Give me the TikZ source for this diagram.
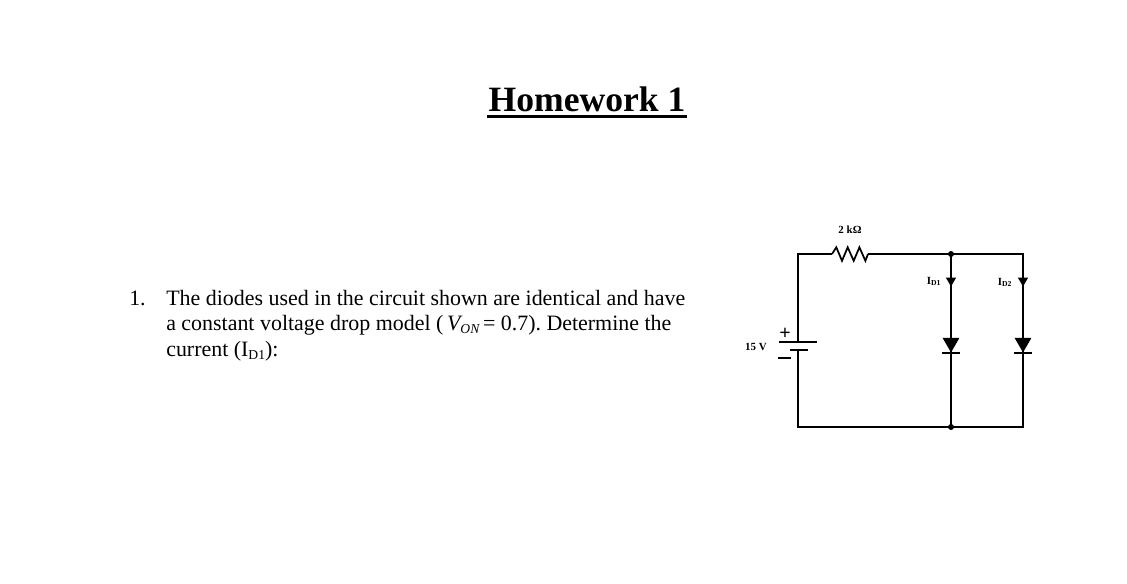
\documentclass[tikz,border=0pt]{standalone}
\usepackage{fontspec}
\setmainfont{Liberation Serif}
\usetikzlibrary{shapes.geometric}
\frenchspacing
\newcommand{\smallsub}[1]{\raisebox{-0.3ex}{\fontsize{10.2}{12}\selectfont #1}}
\tikzstyle{wire} = [draw, line width=1.6pt]
\tikzstyle{plate} = [rectangle, fill=black, inner sep=0pt, minimum height=1.7pt]
\tikzstyle{junction} = [circle, fill=black, inner sep=0pt, minimum size=4.5pt]
\tikzstyle{diode} = [regular polygon, regular polygon sides=3, shape border rotate=180, fill=black, inner sep=0pt, minimum size=14.5pt]
\tikzstyle{flow} = [regular polygon, regular polygon sides=3, shape border rotate=180, fill=black, inner sep=0pt, minimum size=9pt]
\tikzstyle{lab} = [inner sep=0pt, font=\bfseries\fontsize{8.2}{9}\selectfont]
\tikzstyle{body} = [inner sep=0pt, anchor=base west, font=\fontsize{16.45}{19}\selectfont]

\begin{document}
\begin{tikzpicture}[x=0.75pt, y=-0.75pt]
\useasboundingbox (0,0) rectangle (1127,583);

\node [inner sep=0pt, anchor=base, font=\bfseries\fontsize{26.7}{30}\selectfont] at (587,111) (title) {Homework 1};
\node [rectangle, fill=black, inner sep=0pt, minimum width=150pt, minimum height=2.2pt] at (587,116.5) (titlerule) {};

\node [body] at (129,305) (number) {1.};
\node [body] at (166,305) (line1) {The diodes used in the circuit shown are identical and have};
\node [body] at (166,330.5) (line2) {a constant voltage drop model (\,\textit{V\smallsub{ON}}\,= 0.7). Determine the};
\node [body] at (166,356) (line3) {current (I\smallsub{D1}):};

\coordinate (corner1) at (798,254);
\coordinate (corner2) at (1023,254);
\coordinate (corner3) at (1023,427);
\coordinate (corner4) at (798,427);
\coordinate (resl) at (832,254);
\coordinate (resr) at (868,254);
\node [junction] at (951,254) (top) {};
\node [junction] at (951,427) (bottom) {};

\node [plate, minimum width=29pt] at (798,342) (long) {};
\node [plate, minimum width=14pt] at (799,350) (short) {};
\node [plate, minimum width=10pt] at (784.5,358) (minus) {};
\node [inner sep=0pt, font=\bfseries\fontsize{15}{16}\selectfont] at (785,334) (plus) {+};

\node [diode] at (951,342.8) (d1) {};
\node [diode] at (1023,342.8) (d2) {};
\node [plate, minimum width=13.5pt] at (951,353) (bar1) {};
\node [plate, minimum width=13.5pt] at (1023,353) (bar2) {};
\node [flow] at (951,280.5) (i1) {};
\node [flow] at (1023,280.5) (i2) {};

\draw [wire] (long.center) -- (corner1) -- (resl);
\draw [wire, line width=1.3pt] (resl) -- ++(4.3,-6.7) -- ++(5.7,13.5) -- ++(5.7,-13.5) -- ++(6,13.5) -- ++(5.7,-13.5) -- ++(6,13.5) -- (resr);
\draw [wire] (resr) -- (top.center) -- (corner2) -- (corner3) -- (bottom.center) -- (corner4) -- (corner4 |- short);
\draw [wire] (top.center) -- (bottom.center);

\node [lab] at (850,230) (rlabel) {2 kΩ};
\node [lab] at (756,347) (vlabel) {15 V};
\node [lab] at (934,281.5) (ilabel1) {I\textsubscript{D1}};
\node [lab] at (1005,282.5) (ilabel2) {I\textsubscript{D2}};
\end{tikzpicture}
\end{document}
